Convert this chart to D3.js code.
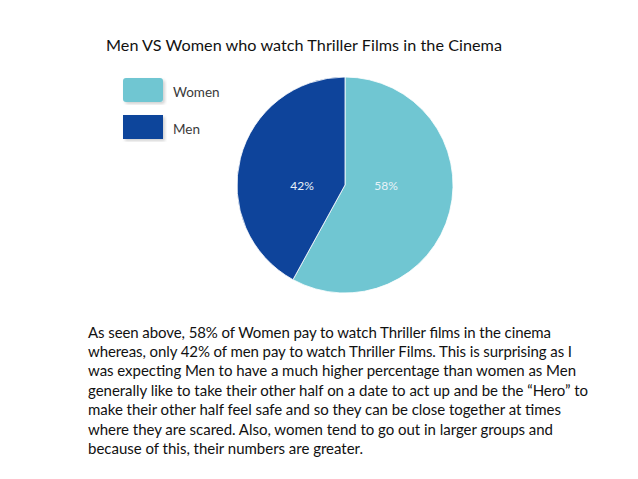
<!DOCTYPE html>
<html>
<head>
<meta charset="utf-8">
<script src="https://cdn.jsdelivr.net/npm/d3@7"></script>
<style>
body { margin: 0; background: #fff; }
svg { display: block; }
</style>
</head>
<body>
<svg></svg>
<script>
var screen = {width: 638, height: 479}

var title = "Men VS Women who watch Thriller Films in the Cinema"
var categories = ["Women", "Men"]
var values = [58, 42]
var colors = ["#70c6d2", "#0e449b"]
var paragraph = [
    "As seen above, 58% of Women pay to watch Thriller films in the cinema",
    "whereas, only 42% of men pay to watch Thriller Films. This is surprising as I",
    "was expecting Men to have a much higher percentage than women as Men",
    "generally like to take their other half on a date to act up and be the \u201cHero\u201d to",
    "make their other half feel safe and so they can be close together at times",
    "where they are scared. Also, women tend to go out in larger groups and",
    "because of this, their numbers are greater."
]
// measured line widths from the slide, so wrapping matches
var lineWidths = [463, 484, 488, 500, 473, 465, 275]

var svg = d3.select("svg")
    .attr("width", screen.width)
    .attr("height", screen.height)

var font = "Lato, 'Open Sans', sans-serif"

svg.append("text")
    .attr("x", 106)
    .attr("y", 51)
    .attr("font-family", font)
    .attr("font-size", 16.2)
    .attr("textLength", 396)
    .attr("lengthAdjust", "spacing")
    .attr("fill", "#111")
    .text(title)

// pie
var cx = 345, cy = 185, r = 108

var pie = d3.pie().sort(null).value(function(d) { return d })
var arc = d3.arc().innerRadius(0).outerRadius(r)
var slices = pie(values)

var g = svg.append("g").attr("transform", "translate(" + cx + "," + cy + ")")

g.selectAll("path")
    .data(slices)
    .enter()
    .append("path")
    .attr("d", arc)
    .attr("fill", function(d, i) { return colors[i] })
    .attr("stroke", "#fff")
    .attr("stroke-width", 0.8)

// labels sit on the horizontal centre line
g.selectAll("text.pct")
    .data(slices)
    .enter()
    .append("text")
    .attr("class", "pct")
    .attr("x", function(d) { return arc.centroid(d)[0] > 0 ? 41 : -43 })
    .attr("y", 5)
    .attr("text-anchor", "middle")
    .attr("font-family", font)
    .attr("font-size", 12)
    .attr("fill", "#e8f2f8")
    .text(function(d) { return d.value + "%" })

// legend
var legend = svg.append("g")
var ly = d3.scaleBand().domain(categories).range([78, 152])

var defs = svg.append("defs")
defs.append("filter").attr("id", "sh")
    .append("feDropShadow")
    .attr("dx", 2).attr("dy", 2).attr("stdDeviation", 1.5)
    .attr("flood-color", "#000").attr("flood-opacity", 0.18)

legend.selectAll("rect")
    .data(categories)
    .enter()
    .append("rect")
    .attr("x", 123)
    .attr("y", function(d) { return ly(d) })
    .attr("width", 40)
    .attr("height", 24)
    .attr("rx", function(d, i) { return i == 0 ? 3 : 0 })
    .attr("fill", function(d, i) { return colors[i] })
    .attr("filter", "url(#sh)")

legend.selectAll("text")
    .data(categories)
    .enter()
    .append("text")
    .attr("x", 173)
    .attr("y", function(d) { return ly(d) + 19 })
    .attr("font-family", font)
    .attr("font-size", 13.5)
    .attr("fill", "#3a3a3a")
    .text(function(d) { return d })

// paragraph
svg.append("g").selectAll("text")
    .data(paragraph)
    .enter()
    .append("text")
    .attr("x", 88)
    .attr("y", function(d, i) { return 337.5 + i * 19.4 })
    .attr("font-family", font)
    .attr("font-size", 15)
    .attr("textLength", function(d, i) { return lineWidths[i] })
    .attr("lengthAdjust", "spacing")
    .attr("fill", "#111")
    .text(function(d) { return d })
</script>
</body>
</html>
